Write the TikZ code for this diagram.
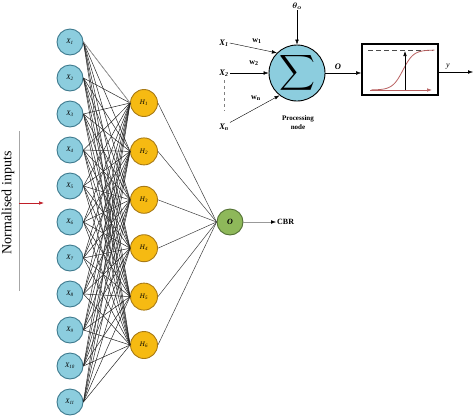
\documentclass[tikz,border=0pt]{standalone}
\usepackage{fontspec}
\setmainfont{Liberation Serif}
\usepackage{amsmath}
\usetikzlibrary{arrows,arrows.meta,positioning}

\definecolor{inblue}{RGB}{140,205,222}
\definecolor{inedge}{RGB}{62,122,142}
\definecolor{hidyel}{RGB}{246,186,18}
\definecolor{hidedge}{RGB}{168,122,22}
\definecolor{outgrn}{RGB}{142,184,90}
\definecolor{outedge}{RGB}{82,112,52}
\definecolor{arrred}{RGB}{192,30,40}
\definecolor{sigred}{RGB}{184,96,96}

\begin{document}
\begin{tikzpicture}[x=1pt,y=-1pt,
		inode/.style={circle, draw=inedge, fill=inblue, line width=0.9pt, minimum size=26pt, inner sep=0pt, font=\fontsize{7}{8}\selectfont\itshape},
		hnode/.style={circle, draw=hidedge, fill=hidyel, line width=0.9pt, minimum size=27pt, inner sep=0pt, font=\fontsize{7}{8}\selectfont\itshape},
		onode/.style={circle, draw=outedge, fill=outgrn, line width=0.9pt, minimum size=26pt, inner sep=0pt, font=\fontsize{8}{9}\selectfont\bfseries\itshape},
		link/.style={black!85, line width=0.5pt},
		tip/.style={-{Latex[length=5pt,width=3.6pt]}},
		lbl/.style={font=\fontsize{8.5}{9}\selectfont\bfseries\itshape, inner sep=1pt}]
					
					\useasboundingbox (0,0) rectangle (474,418);
					
					% network
					\foreach \i in {1,...,11}
						\node[inode] (x\i) at (70,{42+36*(\i-1)}) {X\textsubscript{\i}};
					\foreach \j in {1,...,6}
						\node[hnode] (h\j) at (144,{103+48.4*(\j-1)}) {H\textsubscript{\j}};
					\node[onode] (o) at (230,222) {O};
					
					\foreach \i in {1,...,11}
						\foreach \j in {1,...,6}
							\draw[link] (x\i.east) -- (h\j.west);
					\foreach \j in {1,...,6}
						\draw[link, black!75] (h\j.east) -- (o.west);
					\draw[link, white!70!black] (x1.east) -- (h1.west);
					
					\node[font=\fontsize{8}{9}\selectfont\bfseries, anchor=west, inner sep=1pt] (cbr) at (276,222) {CBR};
					\draw[gray!80, -{Latex[length=5pt,width=3.6pt,color=black]}] (o.east) -- (cbr.west);
					
					% normalised inputs
					\coordinate (nitop) at (19,131);
					\coordinate (nibot) at (19,291);
					\coordinate (nimid) at (19,203);
					\coordinate (niend) at (44,203);
					\draw[gray!70, line width=0.6pt] (nitop) -- (nibot);
					\draw[arrred, line width=0.6pt, -{Latex[length=5pt,width=3.6pt]}] (nimid) -- (niend);
					\node[rotate=90, font=\fontsize{14}{16}\selectfont] (nilabel) at (8,203) {Normalised inputs};
					
					% processing node
					\node[circle, draw=black, fill=inblue, line width=0.9pt, minimum size=56pt, inner sep=0pt] (sum) at (297,73) {\fontsize{23}{24}\selectfont$\displaystyle\sum$};
					\node[lbl] (theta) at (297,6) {$\boldsymbol{\theta_{o}}$};
					\node[lbl] (tx1) at (224,43) {X\textsubscript{1}};
					\node[lbl] (tx2) at (224,73) {X\textsubscript{2}};
					\node[lbl] (txn) at (224,127) {X\textsubscript{n}};
					\node[lbl, font=\fontsize{8}{9}\selectfont\bfseries] (w1) at (257,41) {w\textsubscript{1}};
					\node[lbl, font=\fontsize{8}{9}\selectfont\bfseries] (w2) at (254,63) {w\textsubscript{2}};
					\node[lbl, font=\fontsize{8}{9}\selectfont\bfseries] (wn) at (256,98) {w\textsubscript{n}};
					\node[align=center, font=\fontsize{7}{9}\selectfont\bfseries] (pnode) at (298,123) {Processing\\node};
					
					\draw[tip] (theta) -- (sum.north);
					\draw[tip] (tx1.east) -- (sum.135);
					\draw[tip] (tx2.east) -- (sum.west);
					\draw[tip] (txn.north east) -- (sum.232);
					\draw[gray, dashed] (224,80) -- (224,111);
					
					% transfer function
					\node[draw, line width=1.6pt, minimum width=76pt, minimum height=51pt, inner sep=0pt] (box) at (400,69.5) {};
					\draw[tip] (sum.east) -- (sum.east -| box.west);
					\node[lbl] (olbl) at (338,67) {O};
					\draw[black!70, dashed, dash pattern=on 5pt off 3pt, line width=0.7pt] (368,50) -- (433,50);
					\draw[sigred, line width=0.7pt, -{Latex[length=5pt,width=3.6pt,color=sigred]}] (370,90) -- (432,90);
					\draw[sigred, line width=0.8pt] plot[domain=-1:1, samples=50] ({403+31.5*\x}, {90-40/(1+exp(-6*\x))});
					\draw[black, line width=0.6pt, tip] (405,90) -- (405,51);
					\coordinate (yend) at (473,72);
					\draw[tip] (box.east |- yend) -- (yend);
					\node[lbl, font=\fontsize{8}{9}\selectfont\itshape] (ylbl) at (448,67) {y};
					
			\end{tikzpicture}
\end{document}
